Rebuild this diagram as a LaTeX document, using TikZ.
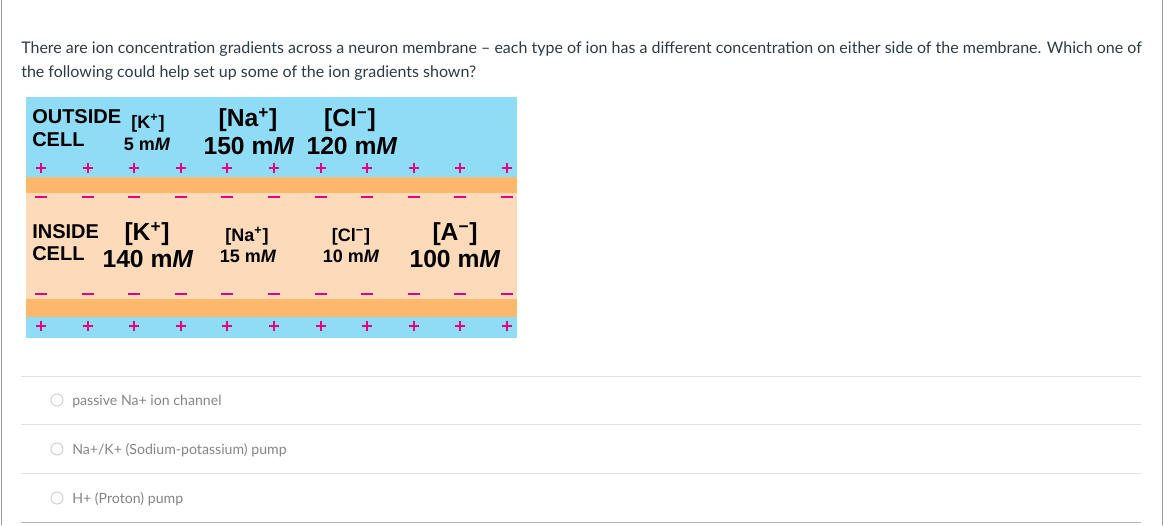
\documentclass[tikz,border=0pt]{standalone}
\usepackage{fontspec}
\setmainfont{Lato}
\newfontfamily\diagfont{Liberation Sans}
\definecolor{textdark}{HTML}{2D3B45}
\definecolor{optgray}{HTML}{858585}
\definecolor{rulegray}{HTML}{E2E2E2}
\definecolor{radiogray}{HTML}{D2D2D2}
\definecolor{framegray}{HTML}{9A9A9A}
\definecolor{outsideblue}{HTML}{8EDCF5}
\definecolor{membrane}{HTML}{FDB86C}
\definecolor{insidepeach}{HTML}{FDDAB9}
\definecolor{chargepink}{HTML}{E5007D}
\tikzset{
  question/.style={anchor=base west, inner sep=0pt, text=textdark, font=\fontsize{12}{14}\selectfont},
  option/.style={anchor=base west, inner sep=0pt, text=optgray, font=\fontsize{10.6}{12}\selectfont},
  radio/.style={draw=radiogray, line width=0.8pt},
  biglabel/.style={inner sep=0pt, font=\diagfont\bfseries\fontsize{18.5}{20}\selectfont},
  smalllabel/.style={inner sep=0pt, font=\diagfont\bfseries\fontsize{13.5}{15}\selectfont},
  sidelabel/.style={anchor=west, inner sep=0pt, font=\diagfont\bfseries\fontsize{15}{17}\selectfont},
  charge/.style={chargepink, line width=1.4pt}
}
\newcommand{\plussign}[2]{\draw[charge] (#1-5,#2) -- (#1+5,#2) (#1,#2-5) -- (#1,#2+5);}
\newcommand{\minussign}[2]{\draw[charge] (#1-6,#2) -- (#1+6,#2);}
\begin{document}
\begin{tikzpicture}[x=0.75pt, y=-0.75pt]
  \useasboundingbox (0,0) rectangle (1164,525);
  \fill[white] (0,0) rectangle (1164,525);
  \draw[framegray] (1,0) -- (1,525);
  \draw[framegray] (1162,0) -- (1162,525);

  % question
  \node[question] (qline1) at (21,53) {There are ion concentration gradients across a neuron membrane – each type of ion has a different concentration on either side of the membrane. Which one of};
  \node[question] (qline2) at (21,77) {the following could help set up some of the ion gradients shown?};

  % membrane picture
  \fill[outsideblue] (26,97) rectangle (517,177);
  \fill[membrane] (26,177) rectangle (517,193);
  \fill[insidepeach] (26,193) rectangle (517,299);
  \fill[membrane] (26,299) rectangle (517,317);
  \fill[outsideblue] (26,317) rectangle (517,338);

  \foreach \i in {0,...,10} {
    \pgfmathsetmacro{\cx}{41+46.6*\i}
    \plussign{\cx}{168}
    \minussign{\cx}{197}
    \minussign{\cx}{294}
    \plussign{\cx}{326}
  }

  % outside
  \node[sidelabel] (outside) at (32,117) {OUTSIDE};
  \node[sidelabel] (outcell) at (32,140) {CELL};
  \node[smalllabel] (kout) at (148,123) {[K\textsuperscript{+}]};
  \node[smalllabel] (koutval) at (147,144) {5 m\textit{M}};
  \node[biglabel] (naout) at (248,120) {[Na\textsuperscript{+}]};
  \node[biglabel] (naoutval) at (249,146) {150 m\textit{M}};
  \node[biglabel] (clout) at (350,120) {[Cl\textsuperscript{−}]};
  \node[biglabel] (cloutval) at (352,146) {120 m\textit{M}};

  % inside
  \node[sidelabel] (inside) at (32,232) {INSIDE};
  \node[sidelabel] (incell) at (32,254) {CELL};
  \node[biglabel] (kin) at (147,234) {[K\textsuperscript{+}]};
  \node[biglabel] (kinval) at (148,259) {140 m\textit{M}};
  \node[smalllabel] (nain) at (247,236) {[Na\textsuperscript{+}]};
  \node[smalllabel] (nainval) at (248,256) {15 m\textit{M}};
  \node[smalllabel] (clin) at (351,237) {[Cl\textsuperscript{−}]};
  \node[smalllabel] (clinval) at (351,256) {10 m\textit{M}};
  \node[biglabel] (ain) at (455,234) {[A\textsuperscript{−}]};
  \node[biglabel] (ainval) at (455,259) {100 m\textit{M}};

  % answers
  \draw[rulegray] (21,376) -- (1141,376);
  \draw[rulegray] (21,424) -- (1141,424);
  \draw[rulegray] (21,473) -- (1141,473);
  \draw[rulegray!80!black] (21,522) -- (1141,522);
  \draw[radio] (57,400) circle (6);
  \node[option] (opta) at (72,405) {passive Na+ ion channel};
  \draw[radio] (57,449) circle (6);
  \node[option] (optb) at (72,454) {Na+/K+ (Sodium-potassium) pump};
  \draw[radio] (57,498) circle (6);
  \node[option] (optc) at (72,503) {H+ (Proton) pump};
\end{tikzpicture}
\end{document}
